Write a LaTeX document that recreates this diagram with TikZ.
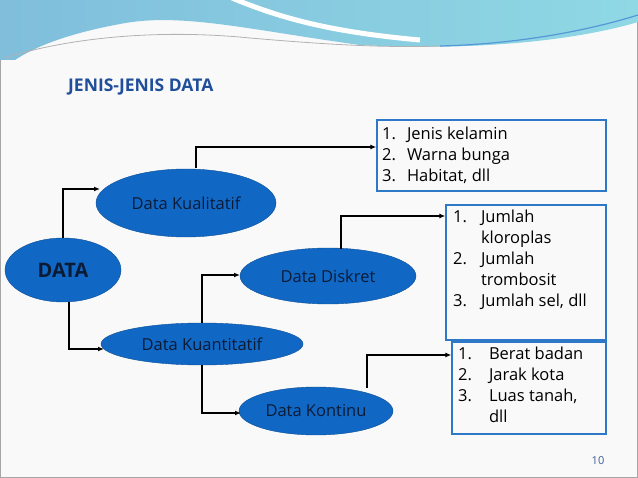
\documentclass[tikz,border=0pt]{standalone}
\usepackage{fontspec}
\setmainfont{Open Sans}
\usetikzlibrary{shapes.geometric,arrows.meta}
\definecolor{ellfill}{HTML}{1168C4}
\definecolor{ellline}{HTML}{0D4F96}
\definecolor{txt}{HTML}{0B1B36}
\definecolor{boxline}{HTML}{2E78C8}
\definecolor{title}{HTML}{1F4E9A}
\definecolor{waveL}{HTML}{80BEDC}
\definecolor{waveR}{HTML}{8FD8E4}
\begin{document}
\begin{tikzpicture}[x=1pt,y=-1pt,
  ell/.style={ellipse,draw=ellline,fill=ellfill,inner sep=0pt,text=txt,font=\fontsize{16.5}{18}\selectfont},
  listbox/.style={draw=boxline,line width=1.3pt,rectangle,inner sep=0pt},
  listtxt/.style={anchor=north west,inner sep=0pt,align=left,text=black,font=\fontsize{16.5}{21}\selectfont},
  conn/.style={line width=1.2pt,-{Latex[length=6pt,width=5pt]}}]
\useasboundingbox (0,0) rectangle (638,478);
\fill[fill=gray!5] (0,0) rectangle (638,478);
\draw[gray!70,line width=1pt] (0.5,0.5) rectangle (637.5,477.5);
% top wave
\shade[left color=waveL,right color=waveR]
 (0,0) -- (638,0) -- (638,22) .. controls (560,45) and (450,50) .. (360,45)
 .. controls (250,30) and (180,12) .. (120,24) .. controls (60,35) and (30,50) .. (15,60) -- (0,60) -- cycle;
\draw[white,line width=5pt] (232,-2) .. controls (280,18) and (330,32) .. (420,40);
\draw[gray!60,line width=0.8pt] (5,58) .. controls (60,40) and (150,28) .. (250,38) .. controls (320,44) and (380,48) .. (440,46);
\draw[cyan!60!blue!70,line width=1.2pt] (440,46) .. controls (520,44) and (590,30) .. (638,15);
% title
\node[anchor=west,inner sep=0pt,text=title,font=\bfseries\fontsize{17.5}{20}\selectfont] (title) at (68,87) {JENIS-JENIS DATA};
% ellipses
\node[ell,minimum width=116pt,minimum height=64pt,font=\bfseries\fontsize{20}{22}\selectfont] (data) at (63,270) {DATA};
\node[ell,minimum width=180pt,minimum height=68pt] (kual) at (186,203) {Data Kualitatif};
\node[ell,minimum width=202pt,minimum height=42pt] (kuan) at (202,344) {Data Kuantitatif};
\node[ell,minimum width=176pt,minimum height=56pt] (disk) at (328,276) {Data Diskret};
\node[ell,minimum width=154pt,minimum height=48pt] (kont) at (316,411) {Data Kontinu};
% boxes
\node[listbox,minimum width=229pt,minimum height=71pt] (b1) at (491.5,155.5) {};
\node[listbox,minimum width=160pt,minimum height=135pt] (b2) at (526,272.5) {};
\node[listbox,minimum width=154pt,minimum height=92pt] (b3) at (529,388) {};
\node[listtxt] (t1) at (382,125) {\begin{tabular}{@{}l@{\hspace{11pt}}l@{}}1.&Jenis kelamin\\2.&Warna bunga\\3.&Habitat, dll\end{tabular}};
\node[listtxt] (t2) at (453,208) {\begin{tabular}{@{}l@{\hspace{14pt}}l@{}}1.&Jumlah\\&kloroplas\\2.&Jumlah\\&trombosit\\3.&Jumlah sel, dll\end{tabular}};
\node[listtxt] (t3) at (458,345) {\begin{tabular}{@{}l@{\hspace{17pt}}l@{}}1.&Berat badan\\2.&Jarak kota\\3.&Luas tanah,\\&dll\end{tabular}};
% connectors
\draw[conn] (data.north) |- (100,189);
\draw[conn] (69,302) |- (104,349);
\draw[conn] (kuan.north) |- (240,275);
\draw[conn] (kuan.south) |- (241,413);
\draw[conn] (196,168) |- (b1.west |- 0,147);
\draw[conn] (341,249) |- (b2.west |- 0,216);
\draw[conn] (367,388) |- (b3.west |- 0,355);
% page number
\node[text=cyan!40!blue!70!black,font=\fontsize{11}{12}\selectfont] (pg) at (598,461) {10};
\end{tikzpicture}
\end{document}
